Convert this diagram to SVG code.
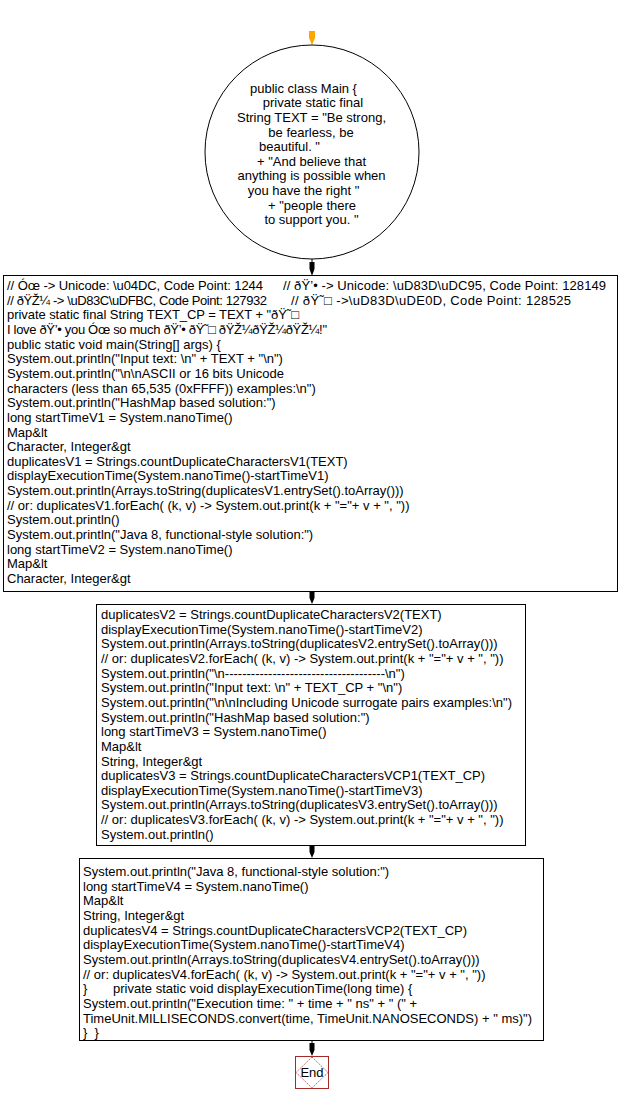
<svg xmlns="http://www.w3.org/2000/svg" width="620" height="1104" viewBox="0 0 620 1104">
<defs>
<style>
text{font-family:"Liberation Sans",Arial,sans-serif;font-size:13px;fill:#000;white-space:pre}
.c{text-anchor:middle}
.box{fill:#fff;stroke:#000;stroke-width:1}
.ln{stroke:#000;stroke-width:1;fill:none}
.ah{fill:#000}
</style>
</defs>
<rect width="620" height="1104" fill="#fff"/>
<g id="connectors">
<path d="M309,31 H315 V38 L312,45 L309,38 Z" fill="#FFA500"/>
<line class="ln" x1="312" y1="259" x2="312" y2="268"/>
<path class="ah" d="M309.5,262 H314.5 V269 L312,276 L309.5,269 Z"/>
<path class="ah" d="M309.5,592 H314.5 V598 L312,604 L309.5,598 Z"/>
<path class="ah" d="M309.5,846 H314.5 V852 L312,858 L309.5,852 Z"/>
<line class="ln" x1="312" y1="1041" x2="312" y2="1046"/>
<path class="ah" d="M309.5,1043 H314.5 V1050 L312,1056 L309.5,1050 Z"/>
</g>
<g id="start">
<circle cx="312" cy="152" r="107" fill="#fff" stroke="#000" stroke-width="1"/>
<text class="c" x="303.5" y="92.7">public class Main {</text>
<text class="c" x="313" y="107.3">private static final</text>
<text class="c" x="311.5" y="121.9">String TEXT = "Be strong,</text>
<text class="c" x="311" y="136.5">be fearless, be</text>
<text class="c" x="289.5" y="151.1">beautiful. "</text>
<text class="c" x="311.5" y="165.7">+ "And believe that</text>
<text class="c" x="311.5" y="180.3">anything is possible when</text>
<text class="c" x="303.5" y="194.9">you have the right "</text>
<text class="c" x="312" y="209.5">+ "people there</text>
<text class="c" x="311.5" y="224.1">to support you. "</text>
</g>
<g id="block1">
<rect class="box" x="3.5" y="275.5" width="614" height="316"/>
<text y="290"><tspan x="7" textLength="256" lengthAdjust="spacing">// Óœ -&gt; Unicode: \u04DC, Code Point: 1244</tspan><tspan x="283" textLength="323" lengthAdjust="spacing">// ðŸ’• -&gt; Unicode: \uD83D\uDC95, Code Point: 128149</tspan></text>
<text y="304.65"><tspan x="7" textLength="260" lengthAdjust="spacing">// ðŸŽ¼ -&gt; \uD83C\uDFBC, Code Point: 127932</tspan><tspan x="291" textLength="280" lengthAdjust="spacing">// ðŸ˜□ -&gt;\uD83D\uDE0D, Code Point: 128525</tspan></text>
<text x="7" y="319.3" textLength="292" lengthAdjust="spacing">private static final String TEXT_CP = TEXT + "ðŸ˜□</text>
<text x="7" y="333.95" textLength="320" lengthAdjust="spacing">I love ðŸ’• you Óœ so much ðŸ’• ðŸ˜□ ðŸŽ¼ðŸŽ¼ðŸŽ¼!"</text>
<text x="7" y="348.6">public static void main(String[] args) {</text>
<text x="7" y="363.25">System.out.println("Input text: \n" + TEXT + "\n")</text>
<text x="7" y="377.9">System.out.println("\n\nASCII or 16 bits Unicode</text>
<text x="7" y="392.55">characters (less than 65,535 (0xFFFF)) examples:\n")</text>
<text x="7" y="407.2">System.out.println("HashMap based solution:")</text>
<text x="7" y="421.85">long startTimeV1 = System.nanoTime()</text>
<text x="7" y="436.5">Map&amp;lt</text>
<text x="7" y="451.15">Character, Integer&amp;gt</text>
<text x="7" y="465.8">duplicatesV1 = Strings.countDuplicateCharactersV1(TEXT)</text>
<text x="7" y="480.45">displayExecutionTime(System.nanoTime()-startTimeV1)</text>
<text x="7" y="495.1">System.out.println(Arrays.toString(duplicatesV1.entrySet().toArray()))</text>
<text x="7" y="509.75">// or: duplicatesV1.forEach( (k, v) -&gt; System.out.print(k + "="+ v + ", "))</text>
<text x="7" y="524.4">System.out.println()</text>
<text x="7" y="539.05">System.out.println("Java 8, functional-style solution:")</text>
<text x="7" y="553.7">long startTimeV2 = System.nanoTime()</text>
<text x="7" y="568.35">Map&amp;lt</text>
<text x="7" y="583">Character, Integer&amp;gt</text>
</g>
<g id="block2">
<rect class="box" x="96.5" y="604.5" width="429" height="241"/>
<text x="101" y="619">duplicatesV2 = Strings.countDuplicateCharactersV2(TEXT)</text>
<text x="101" y="633.65">displayExecutionTime(System.nanoTime()-startTimeV2)</text>
<text x="101" y="648.3">System.out.println(Arrays.toString(duplicatesV2.entrySet().toArray()))</text>
<text x="101" y="662.95">// or: duplicatesV2.forEach( (k, v) -&gt; System.out.print(k + "="+ v + ", "))</text>
<text x="101" y="677.6">System.out.println("\n-------------------------------------\n")</text>
<text x="101" y="692.25">System.out.println("Input text: \n" + TEXT_CP + "\n")</text>
<text x="101" y="706.9">System.out.println("\n\nIncluding Unicode surrogate pairs examples:\n")</text>
<text x="101" y="721.55">System.out.println("HashMap based solution:")</text>
<text x="101" y="736.2">long startTimeV3 = System.nanoTime()</text>
<text x="101" y="750.85">Map&amp;lt</text>
<text x="101" y="765.5">String, Integer&amp;gt</text>
<text x="101" y="780.15">duplicatesV3 = Strings.countDuplicateCharactersVCP1(TEXT_CP)</text>
<text x="101" y="794.8">displayExecutionTime(System.nanoTime()-startTimeV3)</text>
<text x="101" y="809.45">System.out.println(Arrays.toString(duplicatesV3.entrySet().toArray()))</text>
<text x="101" y="824.1">// or: duplicatesV3.forEach( (k, v) -&gt; System.out.print(k + "="+ v + ", "))</text>
<text x="101" y="838.75">System.out.println()</text>
</g>
<g id="block3">
<rect class="box" x="79.5" y="858.5" width="464" height="182"/>
<text x="83" y="876">System.out.println("Java 8, functional-style solution:")</text>
<text x="83" y="890.65">long startTimeV4 = System.nanoTime()</text>
<text x="83" y="905.3">Map&amp;lt</text>
<text x="83" y="919.95">String, Integer&amp;gt</text>
<text x="83" y="934.6">duplicatesV4 = Strings.countDuplicateCharactersVCP2(TEXT_CP)</text>
<text x="83" y="949.25">displayExecutionTime(System.nanoTime()-startTimeV4)</text>
<text x="83" y="963.9">System.out.println(Arrays.toString(duplicatesV4.entrySet().toArray()))</text>
<text x="83" y="978.55">// or: duplicatesV4.forEach( (k, v) -&gt; System.out.print(k + "="+ v + ", "))</text>
<text x="83" y="993.2"><tspan>}</tspan><tspan x="113">private static void displayExecutionTime(long time) {</tspan></text>
<text x="83" y="1007.85">System.out.println("Execution time: " + time + " ns" + " (" +</text>
<text x="83" y="1022.5">TimeUnit.MILLISECONDS.convert(time, TimeUnit.NANOSECONDS) + " ms)")</text>
<text x="83" y="1037.15">}  }</text>
</g>
<g id="end">
<rect x="295.5" y="1056.5" width="33" height="32" fill="#fff" stroke="#A52A2A" stroke-width="1"/>
<path d="M312,1057 L328,1072.5 L312,1088 L296,1072.5 Z" fill="none" stroke="#C03030" stroke-width="0.8" stroke-dasharray="1.5,1"/>
<text x="312" y="1077" style="text-anchor:middle">End</text>
</g>
</svg>
